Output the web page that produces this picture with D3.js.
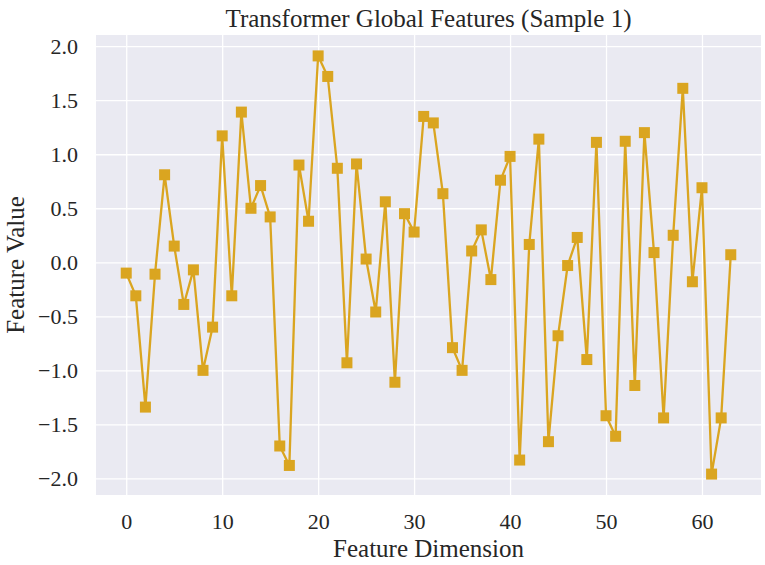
<!DOCTYPE html>
<html>
<head>
<meta charset="utf-8">
<script src="https://cdn.jsdelivr.net/npm/d3@7"></script>
<style>
  html, body { margin: 0; padding: 0; background: #ffffff; }
  text { font-family: "Liberation Serif", "Times New Roman", serif; fill: #262626; }
</style>
</head>
<body>
<svg id="chart" width="765" height="565"></svg>
<script>
const titleText = "Transformer Global Features (Sample 1)";
const xLabel = "Feature Dimension";
const yLabel = "Feature Value";
const dims = d3.range(64);
const values = [
  -0.10, -0.31, -1.34, -0.11, 0.81, 0.15, -0.39, -0.07, -1.00, -0.60,
   1.17, -0.31, 1.39, 0.50, 0.71, 0.42, -1.70, -1.88, 0.90, 0.38,
   1.91, 1.72, 0.87, -0.93, 0.91, 0.03, -0.46, 0.56, -1.11, 0.45,
   0.28, 1.35, 1.29, 0.635, -0.79, -1.00, 0.105, 0.30, -0.16, 0.76,
   0.98, -1.83, 0.165, 1.14, -1.66, -0.68, -0.03, 0.23, -0.90, 1.11,
  -1.42, -1.61, 1.12, -1.14, 1.20, 0.09, -1.44, 0.25, 1.61, -0.18,
   0.69, -1.96, -1.44, 0.07
];
const xTicks = [0, 10, 20, 30, 40, 50, 60];
const yTicks = [-2.0, -1.5, -1.0, -0.5, 0.0, 0.5, 1.0, 1.5, 2.0];

(function () {
const pL = 96, pR = 761, pT = 35, pB = 495;
const svg = d3.select("#chart");

const xMin = 0, xMax = 63, xPad = (xMax - xMin) * 0.05;
const yMin = d3.min(values), yMax = d3.max(values), yPad = (yMax - yMin) * 0.05;
const x = d3.scaleLinear().domain([xMin - xPad, xMax + xPad]).range([pL, pR]);
const y = d3.scaleLinear().domain([yMin - yPad, yMax + yPad]).range([pB, pT]);

svg.append("rect").attr("x", pL).attr("y", pT)
  .attr("width", pR - pL).attr("height", pB - pT).attr("fill", "#EAEAF2");

const xAxis = d3.axisBottom(x).tickValues(xTicks).tickFormat(d3.format("d"))
  .tickSize(-(pB - pT)).tickPadding(18);
const gx = svg.append("g").attr("transform", `translate(0,${pB})`).call(xAxis);
gx.select(".domain").remove();
gx.selectAll("line").attr("stroke", "#ffffff").attr("stroke-width", 1.3);
gx.selectAll("text").attr("font-size", 22).attr("fill", "#262626")
  .style("font-family", "'Liberation Serif', serif");

const fmtY = d => (d < 0 ? "\u2212" : "") + Math.abs(d).toFixed(1);
const yAxis = d3.axisLeft(y).tickValues(yTicks).tickFormat(fmtY)
  .tickSize(-(pR - pL)).tickPadding(18);
const gy = svg.append("g").attr("transform", `translate(${pL},0)`).call(yAxis);
gy.select(".domain").remove();
gy.selectAll("line").attr("stroke", "#ffffff").attr("stroke-width", 1.3);
gy.selectAll("text").attr("font-size", 22).attr("fill", "#262626")
  .style("font-family", "'Liberation Serif', serif");

const line = d3.line().x((d, i) => x(dims[i])).y(d => y(d));
svg.append("path").datum(values).attr("d", line)
  .attr("fill", "none").attr("stroke", "#DAA520").attr("stroke-width", 2.3);

const ms = 11;
svg.append("g").selectAll("rect").data(values).join("rect")
  .attr("x", (d, i) => x(dims[i]) - ms / 2)
  .attr("y", d => y(d) - ms / 2)
  .attr("width", ms).attr("height", ms)
  .attr("fill", "#DAA520");

svg.append("text").attr("x", (pL + pR) / 2).attr("y", 27)
  .attr("text-anchor", "middle").attr("font-size", 25).text(titleText);
svg.append("text").attr("x", (pL + pR) / 2).attr("y", 557)
  .attr("text-anchor", "middle").attr("font-size", 25).text(xLabel);
svg.append("text").attr("transform", `translate(24,${(pT + pB) / 2}) rotate(-90)`)
  .attr("text-anchor", "middle").attr("font-size", 25).text(yLabel);
})();
</script>
</body>
</html>
